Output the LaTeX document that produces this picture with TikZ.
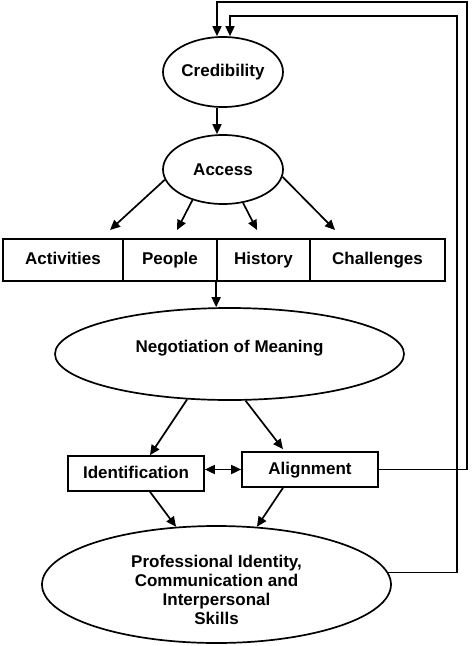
\documentclass[tikz,border=0pt]{standalone}
\usepackage{fontspec}
\setmainfont{Liberation Sans}
\usetikzlibrary{arrows.meta,shapes.geometric,calc}
\begin{document}
\begin{tikzpicture}[x=1pt,y=-1pt,
  every node/.style={font=\bfseries\fontsize{17}{19}\selectfont, line width=1.7pt, inner sep=0pt},
  oval/.style={draw, ellipse},
  cell/.style={draw, rectangle, minimum height=42pt, text height=12.5pt, text depth=3.5pt},
  pbox/.style={draw, rectangle, minimum height=35pt, minimum width=136pt, text height=12.5pt, text depth=3.5pt},
  conn/.style={line width=1.7pt, -{Triangle[length=10pt,width=9pt]}},
  dconn/.style={line width=1.7pt, {Triangle[length=10pt,width=9pt]}-{Triangle[length=10pt,width=9pt]}}
]
\useasboundingbox (0,0) rectangle (474,646);
\node[oval, minimum width=120pt, minimum height=70pt] (cred) at (223,72) {Credibility};
\node[oval, minimum width=120pt, minimum height=69pt] (acc) at (223,169.5) {Access};
\node[cell, minimum width=120pt] (act) at (63,260) {Activities};
\node[cell, minimum width=94pt] (peo) at (170,260) {People};
\node[cell, minimum width=93pt] (his) at (263.5,260) {History};
\node[cell, minimum width=135pt] (cha) at (377.5,260) {Challenges};
\node[oval, minimum width=349pt, minimum height=92pt, text height=12.5pt, text depth=15pt] (neg) at (229.5,354) {Negotiation of Meaning};
\node[pbox] (ide) at (136,473.5) {Identification};
\node[pbox] (ali) at (310,469.5) {Alignment};
\node[oval, minimum width=349pt, minimum height=117pt, align=center] (pro) at (216.5,584.5) {\rule{0pt}{23pt}Professional Identity,\\Communication and\\Interpersonal\\Skills};

\coordinate (t1) at (110,230);
\coordinate (t2) at (177,230);
\coordinate (t3) at (257,230);
\coordinate (t4) at (335,230);
\coordinate (fbA) at (467,2);
\coordinate (fbB) at (457,16);

\draw[conn] ([xshift=-6pt]cred.south) -- ([xshift=-6pt]acc.north);
\draw[conn] (acc.190) -- (t1);
\draw[conn] (acc.225) -- (t2);
\draw[conn] (acc.-59) -- (t3);
\draw[conn] (acc.-7) -- (t4);
\draw[conn] (his.south west) -- (his.south west |- neg.north);
\draw[conn] (neg.227) -- ([xshift=14pt]ide.north);
\draw[conn] (neg.-71) -- ([xshift=-27pt,yshift=2pt]ali.north);
\draw[dconn] (ide.east |- ali.west) -- (ali.west);
\draw[conn] ([xshift=14pt]ide.south) -- (pro.125);
\draw[conn] ([xshift=-27pt]ali.south) -- (pro.55);
\draw[conn] (ali.east) -| (fbA) -| ([xshift=-6pt]cred.north);
\draw[conn] (pro.4) -| (fbB) -| ([xshift=7pt]cred.north);
\end{tikzpicture}
\end{document}
